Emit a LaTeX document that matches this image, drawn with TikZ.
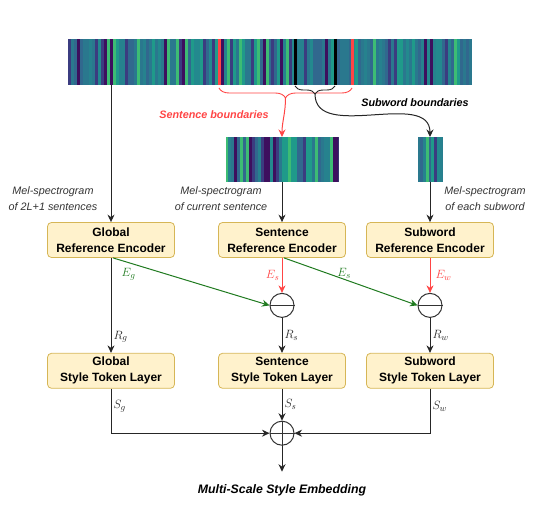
\documentclass[tikz,border=0pt]{standalone}
\usepackage{fontspec}
\setmainfont{Liberation Sans}
\usetikzlibrary{arrows.meta,positioning,calc,decorations.pathreplacing}
\definecolor{boxfill}{HTML}{FFF2CC}
\definecolor{boxline}{HTML}{D6B656}
\definecolor{bndred}{HTML}{FF4545}
\definecolor{embgreen}{HTML}{1F7A1F}
% viridis-like colours for the mel-spectrograms
\definecolor{vir0}{HTML}{3D0F5E}
\definecolor{vir1}{HTML}{3B3C80}
\definecolor{vir2}{HTML}{31688E}
\definecolor{vir3}{HTML}{2A788E}
\definecolor{vir4}{HTML}{26828E}
\definecolor{vir5}{HTML}{23898E}
\definecolor{vir6}{HTML}{2A788E}
\definecolor{vir7}{HTML}{1F9A8A}
\definecolor{vir8}{HTML}{3DBC74}
\definecolor{vir9}{HTML}{31688E}

\begin{document}
\begin{tikzpicture}[x=1pt,y=1pt,
          enc/.style={draw=boxline, fill=boxfill, rounded corners=4pt, line width=0.8pt,
                      minimum width=127pt, minimum height=35pt, align=center, inner sep=1pt,
                      font=\fontsize{12}{16}\selectfont\bfseries},
          op/.style={circle, draw=black!80, line width=1pt, minimum size=24pt, inner sep=0pt},
          note/.style={font=\fontsize{10.8}{16}\selectfont\itshape, text=black!80, align=center},
          bnd/.style={font=\fontsize{10.8}{12}\selectfont\bfseries\itshape},
          lbl/.style={font=\fontsize{12.5}{14}\selectfont, inner sep=2pt},
          arr/.style={-{Stealth[length=7.5pt,width=7pt]}, line width=1pt, black!85},
          arrred/.style={arr, bndred},
          arrgreen/.style={arr, embgreen},
          spec/.style={inner sep=0pt, outer sep=0pt, fill=vir3, path picture={
            \foreach \k in {1,...,#1}{
              \pgfmathrandominteger{\vcol}{0}{9}
              \pgfmathsetmacro{\fa}{(\k-1)/#1}
              \pgfmathsetmacro{\fb}{\k/#1}
              \fill[vir\vcol] ($(path picture bounding box.south west)!\fa!(path picture bounding box.south east)$)
                rectangle ($(path picture bounding box.north west)!\fb!(path picture bounding box.north east)$);
            }}}
        ]
          \useasboundingbox (0,0) rectangle (536,-513);
          \pgfmathsetseed{11}
          % spectrograms
          \node[spec=135, minimum width=404pt, minimum height=46pt] (mel) at (270,-62) {};
          \node[spec=38, minimum width=113pt, minimum height=45pt] (sspec) at (282,-159.5) {};
          \node[spec=9, minimum width=25pt, minimum height=45pt] (wspec) at (430,-159.5) {};
          \foreach \dx/\col in {151/bndred, 284/bndred, 227/black, 267/black}
            \draw[\col, line width=3pt] ([xshift=\dx pt]mel.north west) -- ([xshift=\dx pt]mel.south west);
          % boundaries
          \draw[bndred, line width=0.9pt, decorate, decoration={brace, mirror, amplitude=10pt}]
            ([xshift=151pt,yshift=-3pt]mel.south west) -- ([xshift=284pt,yshift=-3pt]mel.south west);
          \draw[black!85, line width=0.9pt, decorate, decoration={brace, mirror, amplitude=8pt}]
            ([xshift=227pt,yshift=-1pt]mel.south west) -- ([xshift=267pt,yshift=-1pt]mel.south west);
          \coordinate (stip) at ([xshift=217.5pt,yshift=-13pt]mel.south west);
          \coordinate (wtip) at ([xshift=247pt,yshift=-9pt]mel.south west);
          \node[bnd, text=bndred] (sbnd) at (214,-115) {Sentence boundaries};
          \node[bnd] (wbnd) at (415,-103) {Subword boundaries};
          \draw[arrred] (stip) to[out=-90,in=90] (sspec.north);
          \draw[arr] (wtip) to[out=-90,in=90] (wspec.north);
          % encoders and style token layers
          \node[enc] (gre) at (111,-240) {Global\\Reference Encoder};
          \node[enc] (sre) at (282,-240) {Sentence\\Reference Encoder};
          \node[enc] (wre) at (430,-240) {Subword\\Reference Encoder};
          \node[op] (sdiff) [below=35pt of sre] {};
          \node[op] (wdiff) [below=35pt of wre] {};
          \node[enc] (gstl) [below=95pt of gre] {Global\\Style Token Layer};
          \node[enc] (sstl) [below=95pt of sre] {Sentence\\Style Token Layer};
          \node[enc] (wstl) [below=95pt of wre] {Subword\\Style Token Layer};
          \node[op] (sum) [below=32pt of sstl] {};
          \node[bnd, font=\fontsize{12.3}{14}\selectfont\bfseries\itshape] (emb) [below=35pt of sum] {Multi-Scale Style Embedding};
          \draw[black!80, line width=1pt] (sdiff.west) -- (sdiff.east);
          \draw[black!80, line width=1pt] (wdiff.west) -- (wdiff.east);
          \draw[black!80, line width=1pt] (sum.west) -- (sum.east);
          \draw[black!80, line width=1pt] (sum.north) -- (sum.south);
          % notes
          \node[note] (gnote) at (53,-199) {Mel-spectrogram\\of 2L+1 sentences};
          \node[note] (snote) at (221,-199) {Mel-spectrogram\\of current sentence};
          \node[note] (wnote) at (485,-199) {Mel-spectrogram\\of each subword};
          % connectors
          \draw[arr] (mel.south -| gre.north) -- (gre.north);
          \draw[arr] (sspec) -- (sre);
          \draw[arr] (wspec) -- (wre);
          \draw[arrred] (sre) -- (sdiff) node[lbl, midway, left, text=bndred] {$E_s$};
          \draw[arrred] (wre) -- (wdiff) node[lbl, midway, right=3pt, text=bndred] {$E_w$};
          \draw[arrgreen] ([xshift=2pt]gre.south) -- (sdiff.west) node[lbl, pos=0.1, below=3pt, text=embgreen] {$E_g$};
          \draw[arrgreen] ([xshift=2pt]sre.south) -- (wdiff.west) node[lbl, pos=0.45, above=-2pt, text=embgreen] {$E_s$};
          \draw[arr] (gre) -- (gstl) node[lbl, pos=0.83, right] {$R_g$};
          \draw[arr] (sdiff) -- (sstl) node[lbl, midway, right] {$R_s$};
          \draw[arr] (wdiff) -- (wstl) node[lbl, midway, right] {$R_w$};
          \draw[arr] (gstl) |- (sum) node[lbl, pos=0.2, right] {$S_g$};
          \draw[arr] (sstl) -- (sum) node[lbl, midway, right] {$S_s$};
          \draw[arr] (wstl) |- (sum) node[lbl, pos=0.2, right] {$S_w$};
          \draw[arr, shorten >=9pt] (sum) -- (emb);
        \end{tikzpicture}
\end{document}
